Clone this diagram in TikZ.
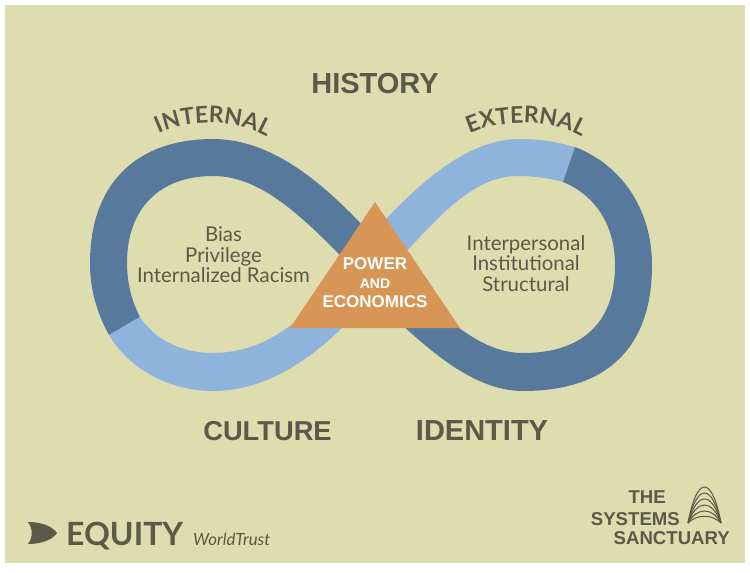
\documentclass[tikz,border=0pt]{standalone}
\usepackage{fontspec}
\usetikzlibrary{decorations.text}
\setmainfont{Liberation Sans}
\newfontfamily\thinfont{Lato}
\definecolor{backcol}{HTML}{DEDDAF}
\definecolor{darkcol}{HTML}{57799C}
\definecolor{lightcol}{HTML}{8FB4DB}
\definecolor{orangecol}{HTML}{D89656}
\definecolor{inkcol}{HTML}{5A5A48}
\tikzset{
    headtext/.style={text=inkcol,font=\fontsize{29}{29}\selectfont\bfseries},
    looptext/.style={text=inkcol,align=center,font=\fontsize{20.4}{20.5}\thinfont},
    markwhite/.style={text=white,align=center,font=\fontsize{17}{22}\selectfont\bfseries},
    sanctext/.style={text=inkcol,font=\fontsize{18.6}{19}\selectfont\bfseries},
    curvetext/.style={decorate,decoration={text along path,text align=center,
        text={|\fontsize{23}{23}\thinfont\bfseries\color{inkcol}|#1}}}
}
\begin{document}
\begin{tikzpicture}[x=1pt,y=-1pt]
    \useasboundingbox (0,0) rectangle (750,573);
    \fill[backcol] (5,5) rectangle (745,563);
    % left loop
    \fill[darkcol] (109,335) .. controls (97,313) and (90,290) .. (90,263)
        .. controls (90,185) and (135,139) .. (213,139)
        .. controls (270,139) and (320,180) .. (365,228) -- (340,255)
        .. controls (300,215) and (260,176) .. (213,176)
        .. controls (160,176) and (127,208) .. (127,263)
        .. controls (127,283) and (132,302) .. (140,317) -- cycle;
    \fill[lightcol] (109,335) .. controls (130,370) and (170,391) .. (213,391)
        .. controls (265,391) and (310,360) .. (345,325) -- (295,322)
        .. controls (270,342) and (243,353) .. (213,353)
        .. controls (182,353) and (155,340) .. (140,317) -- cycle;
    % right loop
    \fill[lightcol] (575,147) .. controls (557,142) and (540,139) .. (520,139)
        .. controls (470,139) and (425,178) .. (385,220) -- (405,253)
        .. controls (440,215) and (475,176) .. (517,176)
        .. controls (533,176) and (549,178) .. (563,182) -- cycle;
    \fill[darkcol] (575,147) .. controls (622,165) and (652,210) .. (652,265)
        .. controls (652,345) and (610,391) .. (523,391)
        .. controls (480,391) and (440,360) .. (400,323) -- (455,325)
        .. controls (475,340) and (497,353) .. (523,353)
        .. controls (580,353) and (615,325) .. (615,265)
        .. controls (615,225) and (595,195) .. (563,182) -- cycle;
    \fill[orangecol] (375,202) -- (460,328) -- (290,328) -- cycle;
    \node[markwhite] (power) at (375,283) {POWER\\[-3pt]{\fontsize{14}{14}\selectfont AND}\\[-3pt]ECONOMICS};
    \node[headtext] (history) at (375,84) {HISTORY};
    \node[headtext,font=\fontsize{27.3}{29}\selectfont\bfseries] (culture) at (267.5,431) {CULTURE};
    \node[headtext] (identity) at (482,431) {IDENTITY};
    \node[looptext] (bias) at (223.5,255) {Bias\\Privilege\\Internalized Racism};
    \node[looptext] (inter) at (526,263.5) {Interpersonal\\Institutional\\Structural};
    \path[curvetext=INTERNAL] (155,135) .. controls (185,119) and (240,118) .. (270,139);
    \path[curvetext=EXTERNAL] (466,135) .. controls (495,119) and (555,118) .. (585,139);
    % logos
    \fill[inkcol] (28,522) .. controls (43,522) and (53,527) .. (57,533)
        .. controls (53,539) and (43,544) .. (28,544)
        .. controls (33,537) and (33,529) .. (28,522) -- cycle;
    \node[anchor=base west,inner sep=0pt,text=inkcol,font=\fontsize{32}{33}\thinfont\bfseries] (equity) at (66,545) {EQUITY};
    \node[anchor=base west,inner sep=0pt,text=inkcol,font=\fontsize{16.8}{17}\thinfont\itshape] (world) at (193,545) {WorldTrust};
    \node[sanctext,anchor=base east,inner sep=0pt] (the) at (666,503) {THE};
    \node[sanctext,anchor=base east,inner sep=0pt] (systems) at (680,525) {SYSTEMS};
    \node[sanctext,anchor=base east,inner sep=0pt] (sanctuary) at (730,544) {SANCTUARY};
    \foreach \h in {475,483,491,499,507,514}
        \draw[inkcol,line width=1pt] (688,523) .. controls (697,\h) and (712,\h) .. (721,523);
\end{tikzpicture}
\end{document}
